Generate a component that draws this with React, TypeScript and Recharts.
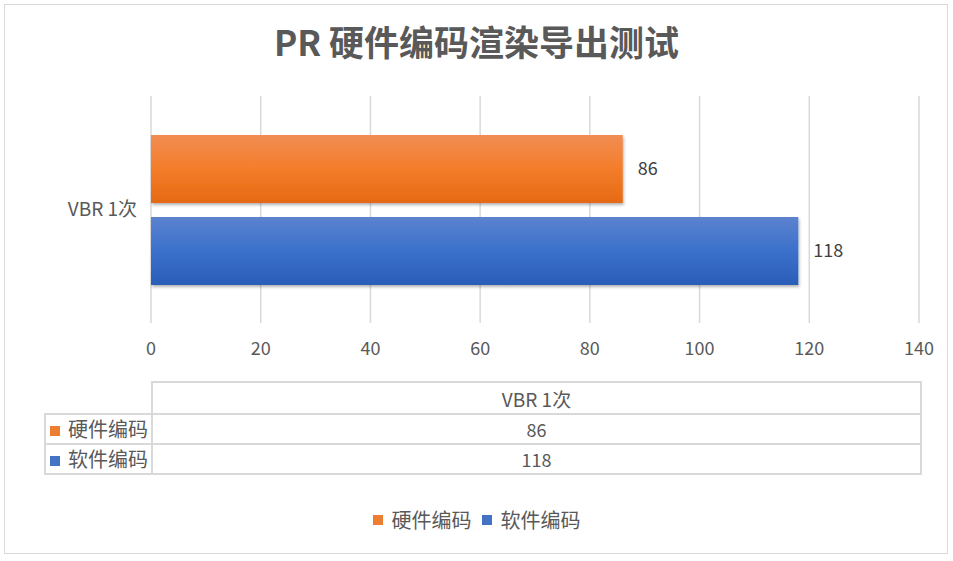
import React from "react";
import {
  Bar,
  BarChart,
  CartesianGrid,
  LabelList,
  XAxis,
  YAxis,
} from "recharts";

const categories = ["VBR 1次"];
const hardware = [86];
const software = [118];
const xTicks = [0, 20, 40, 60, 80, 100, 120, 140];

const seriesList = [
  { key: "hw", name: "硬件编码", values: hardware, color: "#ED7D31", grad: "gradHw" },
  { key: "sw", name: "软件编码", values: software, color: "#4472C4", grad: "gradSw" },
];

const data = categories.map((c, i) => ({
  category: c,
  hw: hardware[i],
  sw: software[i],
}));

const font = "'Noto Sans CJK SC', 'Noto Sans', sans-serif";
const textColor = "#595959";
const lineColor = "#d9d9d9";

export default function App() {
  return (
    <div
      style={{
        position: "absolute",
        left: 0,
        top: 0,
        width: 953,
        height: 561,
        background: "#fff",
        fontFamily: font,
        color: textColor,
      }}
    >
      <div
        style={{
          position: "absolute",
          left: 4,
          top: 4,
          width: 942,
          height: 548,
          border: `1px solid ${lineColor}`,
        }}
      />
      <div
        style={{
          position: "absolute",
          left: 0,
          top: 16,
          width: 953,
          textAlign: "center",
          fontSize: 35,
          fontWeight: 700,
          lineHeight: "50px",
          color: textColor,
        }}
      >
        PR 硬件编码渲染导出测试
      </div>
      <div style={{ position: "absolute", left: 0, top: 0 }}>
        <BarChart
          width={953}
          height={561}
          data={data}
          layout="vertical"
          margin={{ top: 96, right: 34, bottom: 198, left: 0 }}
          barSize={68}
          barGap={14}
        >
          <defs>
            <linearGradient id="gradHw" x1="0" y1="0" x2="0" y2="1">
              <stop offset="0%" stopColor="#F18D53" />
              <stop offset="50%" stopColor="#F47D2A" />
              <stop offset="100%" stopColor="#E56913" />
            </linearGradient>
            <linearGradient id="gradSw" x1="0" y1="0" x2="0" y2="1">
              <stop offset="0%" stopColor="#5C83CF" />
              <stop offset="50%" stopColor="#3B70CB" />
              <stop offset="100%" stopColor="#2A5DB8" />
            </linearGradient>
            <filter id="shadow" x="-5%" y="-10%" width="110%" height="130%">
              <feDropShadow dx="1" dy="2" stdDeviation="1.5" floodColor="#000" floodOpacity="0.3" />
            </filter>
          </defs>
          <CartesianGrid horizontal={false} stroke={lineColor} strokeWidth={1.5} />
          <XAxis
            type="number"
            domain={[0, 140]}
            ticks={xTicks}
            axisLine={false}
            tickLine={false}
            tickSize={0}
            tickMargin={19}
            height={40}
            tick={{ fill: textColor, fontSize: 18, fontFamily: font }}
            interval={0}
          />
          <YAxis
            type="category"
            dataKey="category"
            width={151}
            axisLine={false}
            tickLine={false}
            tickSize={0}
            tickMargin={14}
            tick={{ fill: textColor, fontSize: 19, fontFamily: font }}
          />
          {seriesList.map((s) => (
            <Bar
              key={s.key}
              dataKey={s.key}
              name={s.name}
              fill={`url(#${s.grad})`}
              filter="url(#shadow)"
              isAnimationActive={false}
            >
              <LabelList
                dataKey={s.key}
                position="right"
                offset={15}
                fill="#404040"
                fontSize={18}
                fontFamily={font}
              />
            </Bar>
          ))}
        </BarChart>
      </div>
      <table
        style={{
          position: "absolute",
          left: 44,
          top: 381,
          borderCollapse: "collapse",
          fontSize: 18,
          color: textColor,
        }}
      >
        <tbody>
          <tr style={{ height: 32 }}>
            <td style={{ width: 106, padding: 0 }} />
            {categories.map((c) => (
              <td
                key={c}
                style={{
                  width: 767,
                  padding: 0,
                  fontSize: 19,
                  textAlign: "center",
                  border: `2px solid ${lineColor}`,
                }}
              >
                {c}
              </td>
            ))}
          </tr>
          {seriesList.map((s) => (
            <tr key={s.key} style={{ height: 30 }}>
              <td
                style={{
                  padding: "0 0 0 4px",
                  border: `2px solid ${lineColor}`,
                  whiteSpace: "nowrap",
                  fontSize: 20,
                  lineHeight: "24px",
                }}
              >
                <span
                  style={{
                    display: "inline-block",
                    width: 10,
                    height: 10,
                    background: s.color,
                    marginRight: 8,
                    verticalAlign: "1px",
                  }}
                />
                {s.name}
              </td>
              {s.values.map((v, i) => (
                <td
                  key={i}
                  style={{
                    padding: 0,
                    textAlign: "center",
                    border: `2px solid ${lineColor}`,
                  }}
                >
                  {v}
                </td>
              ))}
            </tr>
          ))}
        </tbody>
      </table>
      <div
        style={{
          position: "absolute",
          left: 0,
          top: 506,
          width: 953,
          display: "flex",
          justifyContent: "center",
          alignItems: "center",
          fontSize: 20,
          lineHeight: "28px",
        }}
      >
        {seriesList.map((s) => (
          <span key={s.key} style={{ display: "flex", alignItems: "center", margin: "0 5px" }}>
            <span
              style={{
                display: "inline-block",
                width: 10,
                height: 10,
                background: s.color,
                marginRight: 9,
              }}
            />
            {s.name}
          </span>
        ))}
      </div>
    </div>
  );
}
